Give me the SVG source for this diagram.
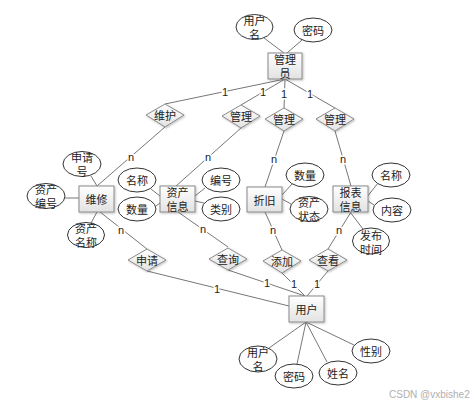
<svg xmlns="http://www.w3.org/2000/svg" width="474" height="401" viewBox="0 0 474 401">
<defs>
<linearGradient id="g" x1="0" y1="0" x2="0" y2="1">
<stop offset="0" stop-color="#ffffff"/>
<stop offset="1" stop-color="#e2e2e2"/>
</linearGradient>
<filter id="sh" x="-20%" y="-20%" width="140%" height="140%">
<feDropShadow dx="1" dy="1" stdDeviation="0.8" flood-color="#000" flood-opacity="0.25"/>
</filter>
<style>
.ent rect{fill:url(#g);stroke:#8a8a8a;stroke-width:1;filter:url(#sh)}
.rel polygon{fill:url(#g);stroke:#8a8a8a;stroke-width:1;filter:url(#sh)}
.att ellipse{fill:#fff;stroke:#333;stroke-width:1}
text{font-family:"Noto Sans CJK SC","Noto Sans",sans-serif;font-size:11px;fill:#222;text-anchor:middle;dominant-baseline:central}
#edges path{stroke:#777;stroke-width:1;fill:none}
#edges text{font-family:"Liberation Sans",sans-serif;font-size:11px;fill:#222;stroke:#fff;stroke-width:3px;paint-order:stroke}
.wm{font-family:"Liberation Sans",sans-serif;font-size:10px;fill:#b0b0b0;text-anchor:start}
</style>
</defs>
<rect width="474" height="401" fill="#fff"/>

<g id="edges">
<path d="M264,38 L284,53"/>
<path d="M302,40 L287,53"/>
<path d="M285,79 L165,104"/>
<path d="M285,79 L241,105"/>
<path d="M285,79 L284,108"/>
<path d="M285,79 L335,108"/>
<path d="M165,127 L97,186"/>
<path d="M241,128 L176,186"/>
<path d="M284,131 L265,187"/>
<path d="M335,131 L351,186"/>
<path d="M91,176 L97,186"/>
<path d="M65,198 L79,198"/>
<path d="M91,223 L97,212"/>
<path d="M100,212 L147,249"/>
<path d="M151,189 L160,196"/>
<path d="M156,206 L160,203"/>
<path d="M205,188 L195,196"/>
<path d="M204,203 L195,201"/>
<path d="M178,212 L228,247"/>
<path d="M292,184 L282,195"/>
<path d="M291,204 L282,199"/>
<path d="M265,212 L282,250"/>
<path d="M378,183 L367,197"/>
<path d="M374,205 L368,201"/>
<path d="M363,229 L350,212"/>
<path d="M351,212 L328,249"/>
<path d="M147,271 L289,306"/>
<path d="M228,270 L305,296"/>
<path d="M282,273 L305,296"/>
<path d="M328,271 L307,296"/>
<path d="M306,322 L269,348"/>
<path d="M306,322 L297,364"/>
<path d="M306,322 L327,362"/>
<path d="M306,322 L354,345"/>
<text x="225" y="92">1</text>
<text x="263" y="92">1</text>
<text x="284" y="94">1</text>
<text x="310" y="94">1</text>
<text x="131" y="157">n</text>
<text x="208" y="157">n</text>
<text x="274" y="159">n</text>
<text x="343" y="159">n</text>
<text x="121" y="230">n</text>
<text x="203" y="229">n</text>
<text x="273" y="230">n</text>
<text x="339" y="230">n</text>
<text x="217" y="289">1</text>
<text x="267" y="283">1</text>
<text x="294" y="284">1</text>
<text x="317" y="284">1</text>
</g>

<g id="admin" class="ent"><rect x="268" y="53" width="34" height="26"/><text x="285" y="59">管理</text><text x="285" y="73">员</text></g>
<g id="repair" class="ent"><rect x="79" y="186" width="35" height="26"/><text x="96.5" y="199">维修</text></g>
<g id="asset" class="ent"><rect x="160" y="186" width="35" height="26"/><text x="177.5" y="192">资产</text><text x="177.5" y="206">信息</text></g>
<g id="depr" class="ent"><rect x="247" y="187" width="35" height="25"/><text x="264.5" y="199.5">折旧</text></g>
<g id="report" class="ent"><rect x="333" y="186" width="35" height="26"/><text x="350.5" y="192">报表</text><text x="350.5" y="206">信息</text></g>
<g id="user" class="ent"><rect x="289" y="296" width="35" height="26"/><text x="306.5" y="309">用户</text></g>

<g id="r-maintain" class="rel"><polygon points="146,115 165,104 184,115 165,127"/><text x="165" y="115">维护</text></g>
<g id="r-manage1" class="rel"><polygon points="222,116 241,105 260,116 241,128"/><text x="241" y="116">管理</text></g>
<g id="r-manage2" class="rel"><polygon points="265,119 284,108 303,119 284,131"/><text x="284" y="119">管理</text></g>
<g id="r-manage3" class="rel"><polygon points="316,119 335,108 354,119 335,131"/><text x="335" y="119">管理</text></g>
<g id="r-apply" class="rel"><polygon points="128,260 147,249 166,260 147,271"/><text x="147" y="260">申请</text></g>
<g id="r-query" class="rel"><polygon points="209,259 228,248 247,259 228,270"/><text x="228" y="259">查询</text></g>
<g id="r-add" class="rel"><polygon points="263,261 282,250 301,261 282,273"/><text x="282" y="261">添加</text></g>
<g id="r-view" class="rel"><polygon points="309,260 328,249 347,260 328,271"/><text x="328" y="260">查看</text></g>

<g id="a-admin-name" class="att"><ellipse cx="254.5" cy="27" rx="18.5" ry="12.5"/><text x="254.5" y="20">用户</text><text x="254.5" y="34">名</text></g>
<g id="a-admin-pwd" class="att"><ellipse cx="313" cy="30" rx="19" ry="12"/><text x="313" y="30">密码</text></g>
<g id="a-applyno" class="att"><ellipse cx="82" cy="164" rx="19" ry="12.5"/><text x="82" y="157">申请</text><text x="82" y="171">号</text></g>
<g id="a-assetno" class="att"><ellipse cx="46" cy="196" rx="19" ry="12.5"/><text x="46" y="189">资产</text><text x="46" y="203">编号</text></g>
<g id="a-assetname" class="att"><ellipse cx="86" cy="235" rx="18.5" ry="12.5"/><text x="86" y="228">资产</text><text x="86" y="242">名称</text></g>
<g id="a-name1" class="att"><ellipse cx="137" cy="180" rx="19" ry="12"/><text x="137" y="180">名称</text></g>
<g id="a-qty1" class="att"><ellipse cx="137" cy="209" rx="19" ry="12"/><text x="137" y="209">数量</text></g>
<g id="a-code" class="att"><ellipse cx="221" cy="180" rx="19" ry="12"/><text x="221" y="180">编号</text></g>
<g id="a-cat" class="att"><ellipse cx="221" cy="209" rx="19" ry="12"/><text x="221" y="209">类别</text></g>
<g id="a-qty2" class="att"><ellipse cx="305" cy="175" rx="19" ry="12"/><text x="305" y="175">数量</text></g>
<g id="a-state" class="att"><ellipse cx="309" cy="209" rx="19" ry="12.5"/><text x="309" y="202">资产</text><text x="309" y="216">状态</text></g>
<g id="a-name2" class="att"><ellipse cx="391" cy="175" rx="19" ry="12"/><text x="391" y="175">名称</text></g>
<g id="a-content" class="att"><ellipse cx="392" cy="210" rx="19" ry="12"/><text x="392" y="210">内容</text></g>
<g id="a-time" class="att"><ellipse cx="371" cy="241" rx="18.5" ry="13"/><text x="371" y="235">发布</text><text x="371" y="249">时间</text></g>
<g id="a-user-name" class="att"><ellipse cx="258" cy="359" rx="19" ry="13"/><text x="258" y="352">用户</text><text x="258" y="366">名</text></g>
<g id="a-user-pwd" class="att"><ellipse cx="294" cy="376" rx="19" ry="12"/><text x="294" y="376">密码</text></g>
<g id="a-user-real" class="att"><ellipse cx="338" cy="373" rx="19" ry="12"/><text x="338" y="373">姓名</text></g>
<g id="a-user-sex" class="att"><ellipse cx="371" cy="351" rx="19" ry="12"/><text x="371" y="351">性别</text></g>

<text class="wm" x="389" y="394">CSDN @vxbishe2</text>
</svg>
